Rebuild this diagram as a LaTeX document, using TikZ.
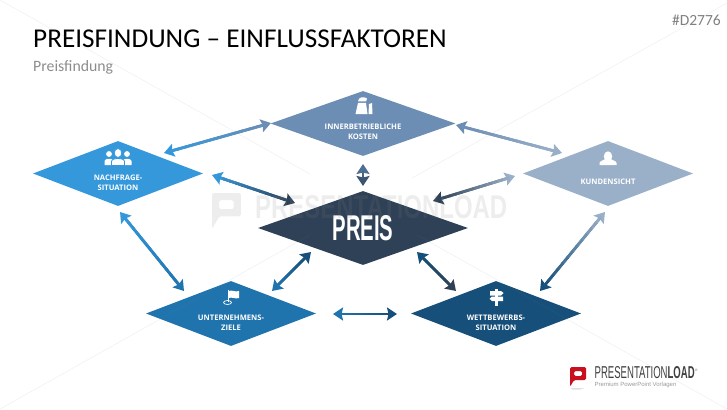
\documentclass[tikz,border=0pt]{standalone}
\usepackage{fontspec}
\setmainfont{Carlito}
\newfontfamily\labelfont{Open Sans}
\newfontfamily\logofont{Liberation Sans}
\usetikzlibrary{arrows.meta,calc,shapes.geometric}

\definecolor{nfblue}{HTML}{3498DB}
\definecolor{topblue}{HTML}{6C8EB4}
\definecolor{kdblue}{HTML}{9AB0C8}
\definecolor{prdark}{HTML}{2F4156}
\definecolor{unblue}{HTML}{2074AE}
\definecolor{wbblue}{HTML}{164F79}
\definecolor{logored}{HTML}{C8101E}
\definecolor{midtop}{HTML}{4F6F92}
\definecolor{midpr}{HTML}{3C5470}

\def\logopath{[rounded corners=1.5pt] (0,0) -- (16,0) -- (16,13) -- (4,13) -- (0,20) -- cycle
  (4,4) -- (4,9) -- (12,9) -- (12,4) -- cycle}

\tikzset{
  rhomb/.style={diamond, shape aspect=2.8, minimum width=170pt, minimum height=65pt, inner sep=0pt, text=white},
  caption/.style={font=\labelfont\bfseries\fontsize{7.6}{10}\selectfont, text=white, align=center, inner sep=0pt},
  link/.style={line width=2.8pt},
  piece/.style={line width=2.8pt},
  faint/.style={draw=gray, line width=.5pt, opacity=.13}
}

\begin{document}
\begin{tikzpicture}[x=1pt,y=-1pt]
  \useasboundingbox (0,0) rectangle (727,409);

  % Title block
  \node[anchor=base west, inner sep=0pt, font=\fontsize{27.2}{30}\selectfont] (title) at (33,48) {PREISFINDUNG -- EINFLUSSFAKTOREN};
  \node[anchor=base west, inner sep=0pt, font=\fontsize{15.8}{18}\selectfont, text=black!45] (subtitle) at (33,71.5) {Preisfindung};
  \node[anchor=base east, inner sep=0pt, font=\fontsize{15.5}{18}\selectfont, text=black!50] (code) at (721,26) {\#D2776};

  % Diamonds
  \node[rhomb, fill=topblue, minimum width=185pt] (top) at (363,123.5) {};
  \node[rhomb, fill=nfblue] (nf) at (118,173.5) {};
  \node[rhomb, fill=kdblue] (kd) at (608,173.5) {};
  \node[rhomb, fill=prdark, minimum width=210pt, minimum height=74pt] (pr) at (363,228)
    {\resizebox{61pt}{25pt}{\logofont\bfseries PREIS}};
  \node[rhomb, fill=unblue] (un) at (231,313.5) {};
  \node[rhomb, fill=wbblue] (wb) at (496,313.5) {};

  % Captions
  \node[caption] (toptext) at (363,132) {INNERBETRIEBLICHE\\KOSTEN};
  \node[caption] (nftext) at (118,182.5) {NACHFRAGE-\\SITUATION};
  \node[caption] (kdtext) at (608,182) {KUNDENSICHT};
  \node[caption] (untext) at (231,322.5) {UNTERNEHMENS-\\ZIELE};
  \node[caption] (wbtext) at (496,322.5) {WETTBEWERBS-\\SITUATION};

  % Arrow ends
  \coordinate (nf-top) at (164,153);
  \coordinate (top-nf) at (271,123);
  \coordinate (top-kd) at (456,125);
  \coordinate (kd-top) at (562,153);
  \coordinate (nf-pr) at (212,175);
  \coordinate (pr-nf) at (295,203);
  \coordinate (kd-pr) at (515,176);
  \coordinate (pr-kd) at (433,201);
  \coordinate (top-pr) at (363,164);
  \coordinate (pr-top) at (363,186);
  \coordinate (nf-un) at (120,212);
  \coordinate (un-nf) at (184,291);
  \coordinate (kd-wb) at (605,212);
  \coordinate (wb-kd) at (540,291);
  \coordinate (pr-un) at (311,252);
  \coordinate (un-pr) at (272,291);
  \coordinate (pr-wb) at (417,252);
  \coordinate (wb-pr) at (456,291);
  \coordinate (un-wb) at (333,314);
  \coordinate (wb-un) at (397,314);

  % Arrows, each shaft runs from one colour to the other
  \foreach \from/\to/\cola/\colb in {
      nf-top/top-nf/nfblue/topblue,
      top-kd/kd-top/topblue/kdblue,
      nf-pr/pr-nf/nfblue/prdark,
      kd-pr/pr-kd/kdblue/prdark,
      top-pr/pr-top/midtop/midpr,
      nf-un/un-nf/nfblue/unblue,
      kd-wb/wb-kd/kdblue/wbblue,
      pr-un/un-pr/wbblue/unblue,
      pr-wb/wb-pr/wbblue/prdark,
      un-wb/wb-un/unblue/wbblue} {
      \draw[link, draw=\cola!50!\colb, {Stealth[length=10pt,width=13pt,inset=1.5pt,color=\cola]}-{Stealth[length=10pt,width=13pt,inset=1.5pt,color=\colb]}]
        (\from) -- (\to);
      \coordinate (bodya) at ($(\from)!6pt!(\to)$);
      \coordinate (bodyb) at ($(\to)!6pt!(\from)$);
      \foreach \i in {0,...,11} {
        \pgfmathsetmacro\ta{\i/12}                 % Start of this piece
        \pgfmathsetmacro\tb{min(1,(\i+1.1)/12)}    % End, with a little overlap
        \pgfmathtruncatemacro\pct{100-100*(\i+.5)/12}
        \draw[piece, draw=\cola!\pct!\colb] ($(bodya)!\ta!(bodyb)$) -- ($(bodya)!\tb!(bodyb)$);
      }
    };

  % Icon: factory
  \fill[white] (355.5,114) -- (358,103) -- (366,103) -- (367.5,114) -- cycle;
  \fill[white] (368.5,114) -- (369,104) -- (372,103) -- (372.5,114) -- cycle;
  \fill[white] (358,101.5) .. controls (358,97) and (364,96) .. (367,98.5) -- (366,101.5) -- cycle;

  % Icon: three people
  \foreach \dx in {-9,9} {
    \fill[white] (118+\dx,154) circle (2.9);
    \fill[white] (118+\dx-4.5,165) -- (118+\dx-4.5,161) .. controls (118+\dx-4.5,158) and (118+\dx+4.5,158) .. (118+\dx+4.5,161) -- (118+\dx+4.5,165) -- cycle;
  }
  \fill[white, draw=nfblue, line width=.8pt] (118,153) ellipse (3.8 and 4.5);
  \fill[white, draw=nfblue, line width=.8pt] (111.5,165.5) -- (111.5,161.5) .. controls (111.5,157.5) and (124.5,157.5) .. (124.5,161.5) -- (124.5,165.5) -- cycle;

  % Icon: person
  \fill[white] (608,156.5) ellipse (4.2 and 5.2);
  \fill[white] (599.5,165) -- (599.5,163) .. controls (600,160.5) and (604,160.5) .. (605.5,159) -- (610.5,159) .. controls (612,160.5) and (616,160.5) .. (616.5,163) -- (616.5,165) -- cycle;

  % Icon: flag
  \draw[white, line width=.8pt] (228,302) -- (228,290);
  \fill[white] (229,291) .. controls (232,289.5) and (235,292.5) .. (239,291) -- (239,298) .. controls (235,299.5) and (232,296.5) .. (229,298) -- cycle;
  \draw[white, line width=.7pt] (227.5,302.5) ellipse (4 and 2);

  % Icon: signpost
  \fill[white] (495,289) rectangle (497.5,305.5);
  \fill[white] (490,291) -- (501,291) -- (503.5,293) -- (501,295.5) -- (490,295.5) -- cycle;
  \fill[white] (503,296.5) -- (492,296.5) -- (489.5,298.8) -- (492,301) -- (503,301) -- cycle;

  % Logo bottom right
  \fill[logored, even odd rule] [shift={(570,367)}] \logopath;
  \fill[black!12] (571,388) -- (585,388) -- (580,389.5) -- (572,389.5) -- cycle;
  \node[anchor=south west, inner sep=0pt, text=black!75] (logotext) at (594.5,379)
    {\resizebox{100pt}{12pt}{\logofont PRESENTATION\bfseries LOAD}};
  \node[anchor=south west, inner sep=0pt, text=black!60, font=\logofont\fontsize{3.5}{4}\selectfont] (logomark) at (695,372) {\textregistered};
  \node[anchor=base west, inner sep=0pt, text=black!40, font=\logofont\fontsize{6}{7}\selectfont] (logosub) at (594.5,386.5) {Premium PowerPoint Vorlagen};

  % Faint lines and watermark on top of everything
  \draw[faint] (0,0) -- (310,174);
  \draw[faint] (417,235) -- (727,409);
  \draw[faint] (0,409) -- (310,235);
  \draw[faint] (412,178) -- (727,3);
  \begin{scope}[opacity=.14]
    \fill[gray, even odd rule] [shift={(212,193)}, scale=1.8, rounded corners=3pt] \logopath;
    \node[anchor=south west, inner sep=0pt, text=gray] (mark) at (255,219)
      {\resizebox{252pt}{23pt}{\logofont\bfseries PRESENTATIONLOAD}};
  \end{scope}
\end{tikzpicture}
\end{document}
